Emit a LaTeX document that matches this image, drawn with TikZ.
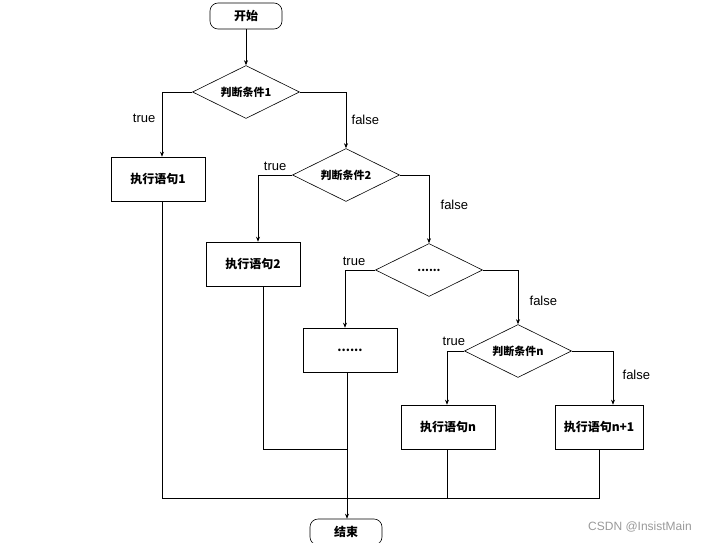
\documentclass[tikz,border=0pt]{standalone}
\usepackage{fontspec}
\setmainfont{Liberation Sans}
\newfontfamily\cjk{Noto Sans CJK SC}
\usetikzlibrary{arrows.meta}
\usetikzlibrary{positioning}
\usetikzlibrary{shapes.geometric}
\begin{document}
\begin{tikzpicture}[x=1pt,y=-1pt,>={Stealth[length=5pt,width=4pt]},semithick,
					font=\fontsize{13}{15}\selectfont]
					\tikzset{
						term/.style={draw,rounded corners=8pt,minimum width=72pt,minimum height=26pt,font=\cjk\bfseries\fontsize{12}{14}\selectfont},
						box/.style={draw,minimum width=94pt,minimum height=44pt,font=\cjk\bfseries\fontsize{12}{14}\selectfont},
						cond/.style={draw,diamond,aspect=2.05,inner sep=0pt,minimum width=107pt,minimum height=53pt,font=\cjk\bfseries\fontsize{11}{13}\selectfont},
						lbl/.style={font=\fontsize{13}{15}\selectfont}
					}
					\useasboundingbox (0,0) rectangle (723,543);
					
					\node[term]  (start) at (246,16)  {开始};
					\node[cond]  (C_1)   at (246,92)  {判断条件1};
					\node[box]   (B_1)   at (158,179) {执行语句1};
					\node[cond]  (C_2)   at (346,175) {判断条件2};
					\node[box]   (B_2)   at (253,264) {执行语句2};
					\node[cond]  (C_3)   at (429,270) {......};
					\node[box]   (B_3)   at (350,350) {......};
					\node[cond]  (C_n)   at (518,351) {判断条件n};
					\node[box]   (B_n)   at (448,427) {执行语句n};
					\node[box,minimum width=88pt] (B_m) at (599,427) {执行语句n+1};
					\node[term]  (stop)  at (346,532) {结束};
					
					\draw[->] (start) -- (C_1);
					\draw[->] (C_1.west) -| (B_1.north -| 162,0) node[lbl,pos=0.7,left=3pt] {true};
					\draw[->] (C_1.east) -| (C_2.north) node[lbl,pos=0.75,right=2pt] {false};
					\draw[->] (C_2.west) -| (B_2.north -| 258,0) node[lbl,pos=0.25,above=1pt] {true};
					\draw[->] (C_2.east) -| (C_3.north) node[lbl,pos=0.72,right=8pt] {false};
					\draw[->] (C_3.west) -| (B_3.north -| 345,0) node[lbl,pos=0.35,above=1pt] {true};
					\draw[->] (C_3.east) -| (C_n.north) node[lbl,pos=0.78,right=8pt] {false};
					\draw[->] (C_n.west) -| (B_n.north -| 447,0) node[lbl,pos=0.3,above=2pt] {true};
					\draw[->] (C_n.east) -| (B_m.north -| 613,0) node[lbl,pos=0.72,right=6pt] {false};
					
					\coordinate (J_1) at (162,498);
					\coordinate (J_2) at (347,498);
					\draw (B_1.south -| J_1) -- (J_1) -- (B_m.south |- J_1) -- (B_m.south);
					\draw (B_n.south -| 447,0) -- (447,498);
					\draw (B_2.south -| 263,0) -- (263,449) -- (347,449);
					\draw[->] (B_3.south -| J_2) -- (stop.north -| J_2);
					
					\node[font=\fontsize{12}{14}\selectfont,text=gray!80] (mark) at (640,527) {CSDN @InsistMain};
\end{tikzpicture}
\end{document}
